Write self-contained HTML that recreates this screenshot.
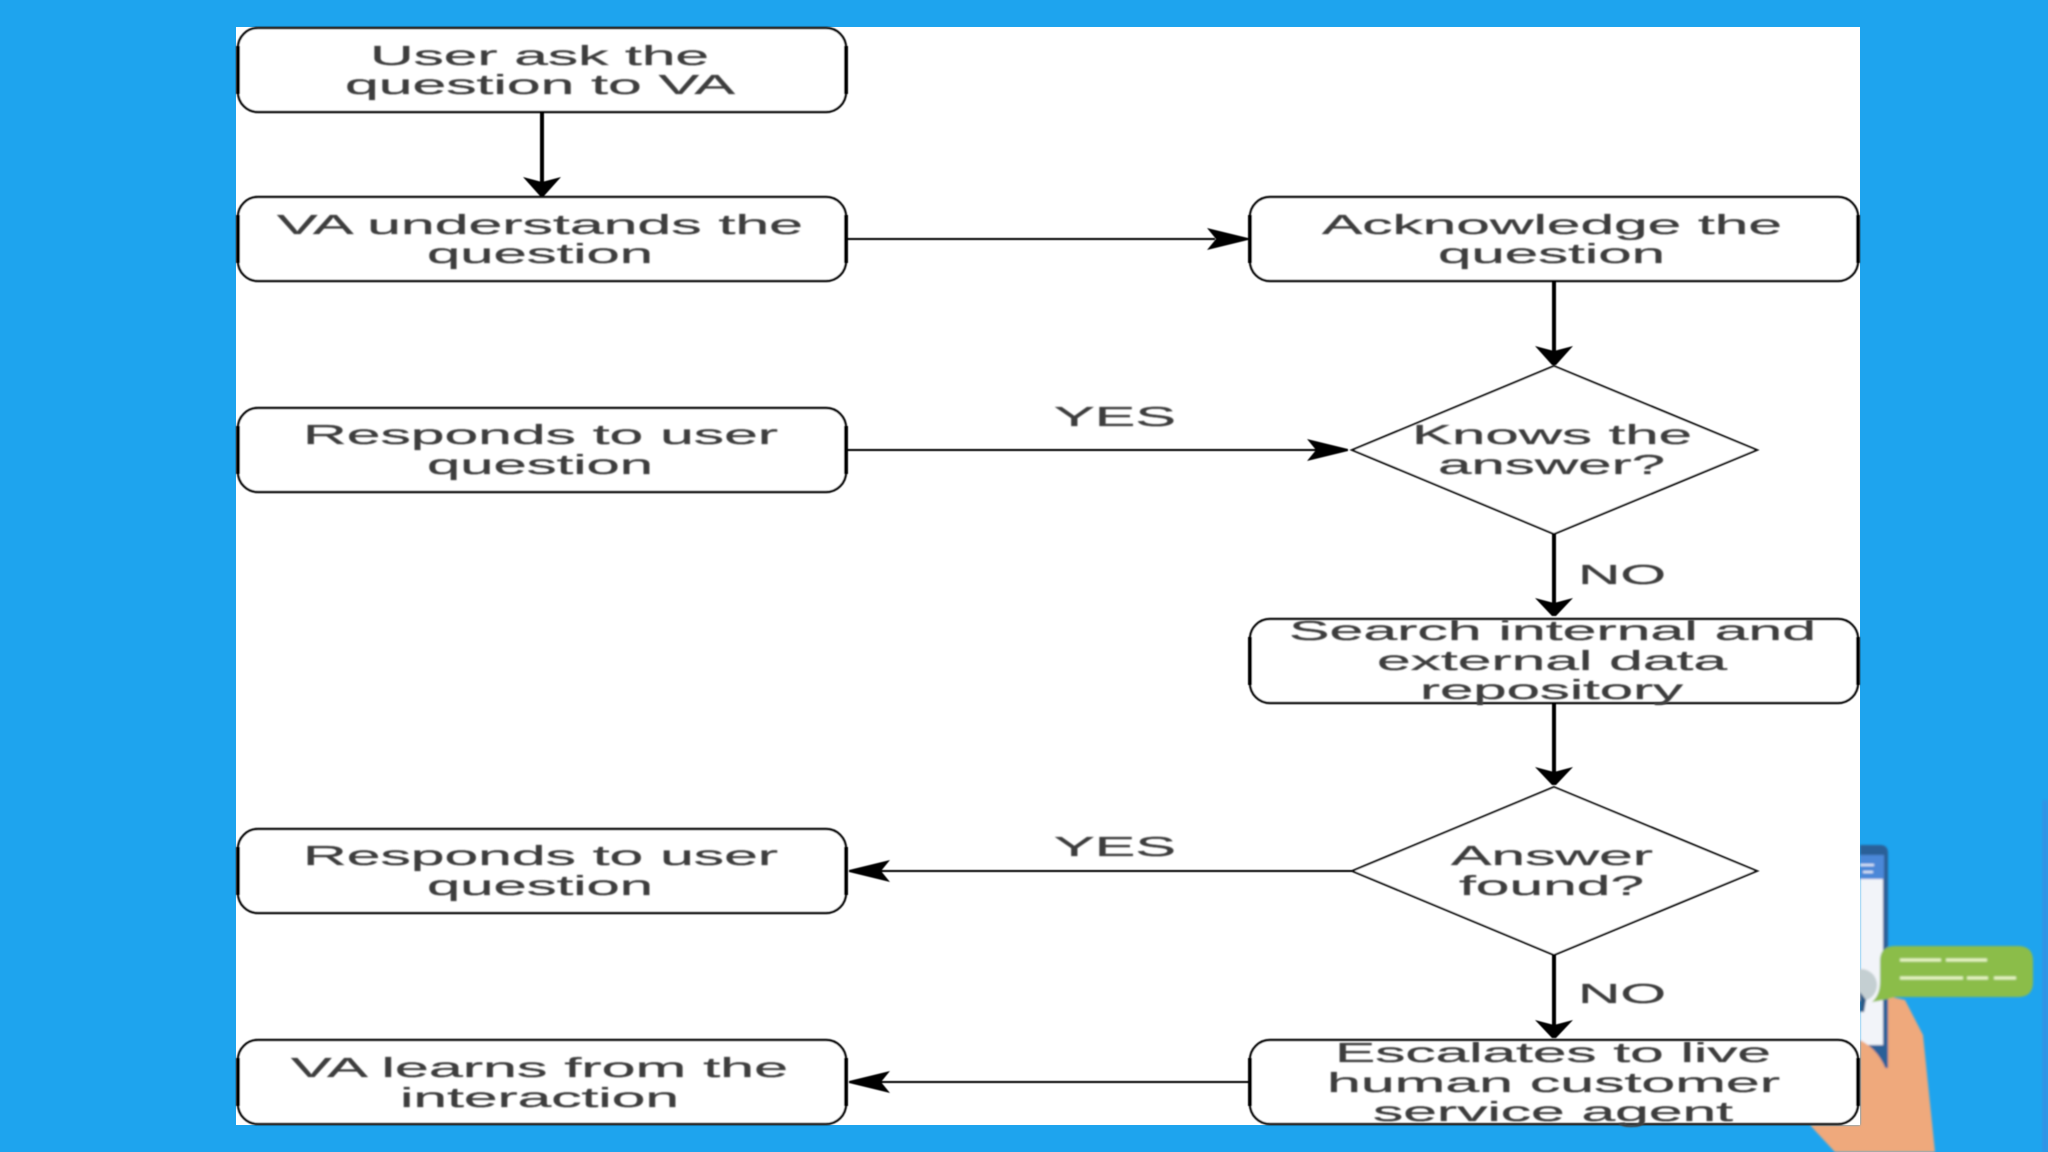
<!DOCTYPE html>
<html><head><meta charset="utf-8"><style>
html,body{margin:0;padding:0;width:2048px;height:1152px;overflow:hidden;background:#1ea4ee}
svg{display:block}
text{font-family:"Liberation Sans",Arial,sans-serif;font-size:28px;fill:#3c3c3c;stroke:#555;stroke-width:.35}
</style></head><body>
<svg width="2048" height="1152" viewBox="0 0 2048 1152" xmlns="http://www.w3.org/2000/svg">
<defs>
<filter id="b" x="-5%" y="-20%" width="110%" height="140%"><feGaussianBlur stdDeviation="0.9"/></filter>
<filter id="s" x="-5%" y="-5%" width="110%" height="110%"><feGaussianBlur stdDeviation="1"/></filter>
<filter id="l" x="-2%" y="-2%" width="104%" height="104%"><feGaussianBlur stdDeviation="0.4"/></filter>
</defs>
<rect width="2048" height="1152" fill="#1ea4ee"/>
<rect x="2042" y="800" width="6" height="352" fill="#2f94e6" filter="url(#s)"/>
<g filter="url(#s)">
<path d="M1810 1125L1835 1152H1935L1923 1035L1905 1000L1860 990L1860 1125Z" fill="#efa97c"/>
<path d="M1860 845H1880Q1888 845 1888 853V1068L1860 1040Z" fill="#2a6098"/>
<rect x="1860" y="855" width="24" height="24" fill="#4c88d8"/>
<rect x="1860" y="879" width="23" height="166" fill="#f2f4f9"/>
<rect x="1860" y="864" width="14" height="2" fill="#e6f0fa"/>
<rect x="1863" y="871" width="10" height="2" fill="#e6f0fa"/>
<circle cx="1861" cy="985" r="16" fill="#c4cfd2"/>
<path d="M1860 992L1866 1000L1864 1012H1860Z" fill="#2a5a86"/>
<path d="M1860 1045H1883L1888 1068L1880 1068Q1870 1050 1860 1045Z" fill="#2a6098"/>
<path d="M1860 1040Q1880 1050 1888 1075L1905 1152H1835L1810 1125H1860Z" fill="#efa97c"/>
<path d="M1895 946H2018Q2033 946 2033 961V982Q2033 997 2018 997H1895Q1885 1000 1872 1002Q1880 995 1880 982V961Q1880 946 1895 946Z" fill="#8bbd4a"/>
<g stroke="#e8f5c4" stroke-width="3">
<path d="M1900 960H1941M1946 960H1987M1900 978H1963M1967 978H1988M1994 978H2016"/>
</g>
</g>
<rect x="236" y="27" width="1624" height="1098" fill="#fff"/>

<g filter="url(#l)">
<g fill="#fff" stroke="#111" stroke-width="2.5">
<rect x="238" y="28" width="608" height="84" rx="20"/>
<rect x="238" y="197" width="608" height="84" rx="20"/>
<rect x="238" y="408" width="608" height="84" rx="20"/>
<rect x="238" y="829" width="608" height="84" rx="20"/>
<rect x="238" y="1040" width="608" height="84" rx="20"/>
<rect x="1250" y="197" width="608" height="84" rx="20"/>
<rect x="1250" y="619" width="608" height="84" rx="20"/>
<rect x="1250" y="1040" width="608" height="84" rx="20"/>
<polygon points="1554,366 1757,450 1554,534 1352,450" stroke-width="2"/>
<polygon points="1554,787 1757,871 1554,955 1352,871" stroke-width="2"/>
</g>
<g stroke="#000" stroke-width="4" fill="none">
<path d="M238 46V94M846 46V94M238 215V263M846 215V263M238 426V474M846 426V474M238 847V895M846 847V895M238 1058V1106M846 1058V1106M1250 215V263M1858 215V263M1250 637V685M1858 637V685M1250 1058V1106M1858 1058V1106"/>
<path d="M542 112V185M1554 281V352M1554 534V605M1554 703V775M1554 955V1026"/>
</g>
<g stroke="#000" stroke-width="2" fill="none">
<path d="M847 239H1215M847 450H1320M880 871H1352M880 1082H1249"/>
</g>
<g fill="#000">
<path d="M523 177L542 182L561 177L544 196H540Z"/>
<path d="M1535 346L1554 351L1573 346L1556 365H1552Z"/>
<path d="M1535 598L1554 603L1573 598L1556 616H1552Z"/>
<path d="M1535 767L1554 772L1573 767L1556 785H1552Z"/>
<path d="M1535 1020L1554 1025L1573 1020L1556 1038H1552Z"/>
<path d="M1207 228L1216 239L1207 250L1248 240V238Z"/>
<path d="M1307 439L1316 450L1307 461L1348 451V449Z"/>
<path d="M890 860L881 871L890 882L849 872V870Z"/>
<path d="M890 1071L881 1082L890 1093L849 1083V1081Z"/>
</g>
</g>

<g filter="url(#b)">
<text x="370" y="65" textLength="339" lengthAdjust="spacingAndGlyphs">User ask the</text>
<text x="345" y="94" textLength="390" lengthAdjust="spacingAndGlyphs">question to VA</text>
<text x="277" y="234" textLength="526" lengthAdjust="spacingAndGlyphs">VA understands the</text>
<text x="427" y="263" textLength="226" lengthAdjust="spacingAndGlyphs">question</text>
<text x="1322" y="234" textLength="460" lengthAdjust="spacingAndGlyphs">Acknowledge the</text>
<text x="1438" y="263" textLength="227" lengthAdjust="spacingAndGlyphs">question</text>
<text x="303" y="444" textLength="475" lengthAdjust="spacingAndGlyphs">Responds to user</text>
<text x="427" y="474" textLength="226" lengthAdjust="spacingAndGlyphs">question</text>
<text x="1412" y="444" textLength="280" lengthAdjust="spacingAndGlyphs">Knows the</text>
<text x="1438" y="474" textLength="227" lengthAdjust="spacingAndGlyphs">answer?</text>
<text x="1054" y="426" textLength="122" lengthAdjust="spacingAndGlyphs">YES</text>
<text x="1578" y="584" textLength="88" lengthAdjust="spacingAndGlyphs">NO</text>
<text x="1289" y="640" textLength="527" lengthAdjust="spacingAndGlyphs">Search internal and</text>
<text x="1377" y="670" textLength="350" lengthAdjust="spacingAndGlyphs">external data</text>
<text x="1420" y="699" textLength="263" lengthAdjust="spacingAndGlyphs">repository</text>
<text x="303" y="865" textLength="475" lengthAdjust="spacingAndGlyphs">Responds to user</text>
<text x="427" y="895" textLength="226" lengthAdjust="spacingAndGlyphs">question</text>
<text x="1451" y="865" textLength="202" lengthAdjust="spacingAndGlyphs">Answer</text>
<text x="1459" y="895" textLength="185" lengthAdjust="spacingAndGlyphs">found?</text>
<text x="1054" y="856" textLength="122" lengthAdjust="spacingAndGlyphs">YES</text>
<text x="1578" y="1003" textLength="88" lengthAdjust="spacingAndGlyphs">NO</text>
<text x="291" y="1077" textLength="497" lengthAdjust="spacingAndGlyphs">VA learns from the</text>
<text x="400" y="1107" textLength="279" lengthAdjust="spacingAndGlyphs">interaction</text>
<text x="1335" y="1062" textLength="436" lengthAdjust="spacingAndGlyphs">Escalates to live</text>
<text x="1327" y="1092" textLength="453" lengthAdjust="spacingAndGlyphs">human customer</text>
<text x="1373" y="1121" textLength="360" lengthAdjust="spacingAndGlyphs">service agent</text>
</g>
</svg>
</body></html>
